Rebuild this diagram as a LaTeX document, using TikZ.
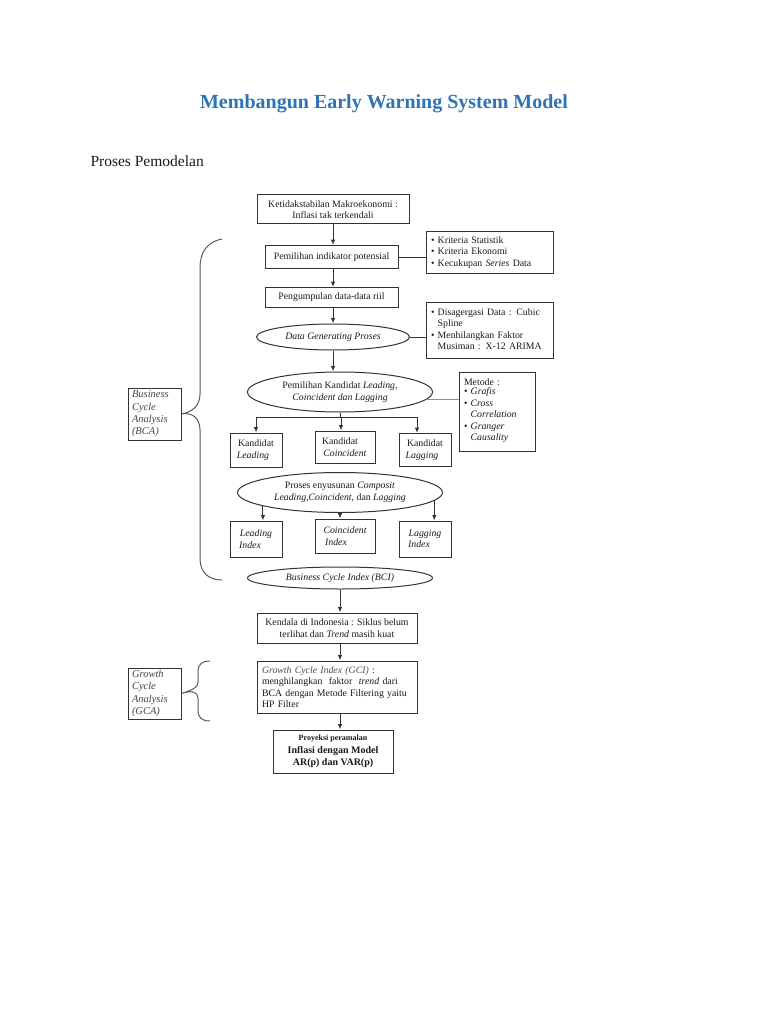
\documentclass[tikz,border=0pt]{standalone}
\usepackage{fontspec}
\setmainfont{Liberation Serif}
\usetikzlibrary{shapes.geometric,arrows.meta}
\definecolor{titleblue}{HTML}{2E74B5}
\definecolor{lncol}{HTML}{333333}
\definecolor{sidetxt}{HTML}{444444}
\begin{document}
\begin{tikzpicture}[x=1pt,y=-1pt,
  every node/.style={font=\fontsize{9.8}{11.5}\selectfont, text=black!90},
  box/.style={draw=lncol, line width=1pt, rectangle, inner sep=0pt, align=center},
  lbox/.style={draw=lncol, line width=1pt, rectangle, inner ysep=0pt, inner xsep=5pt, align=left},
  oval/.style={draw=lncol, line width=1pt, ellipse, inner sep=0pt, align=center},
  side/.style={draw=lncol, line width=1pt, rectangle, inner ysep=0pt, inner xsep=4pt, align=left,
    text width=45pt, minimum height=52pt, font=\fontsize{10.5}{12.3}\selectfont\itshape, text=sidetxt},
  arr/.style={draw=lncol, line width=1pt, -{Latex[length=5.5pt,width=4.5pt]}},
  ln/.style={draw=lncol, line width=1pt},
  gln/.style={draw=black!45, line width=1pt},
  brace/.style={draw=black!65, line width=1pt}]
\useasboundingbox (0,0) rectangle (768,1024);

% title and heading
\node[font=\fontsize{20}{24}\selectfont\bfseries, text=titleblue] (title) at (384,104) {Membangun Early Warning System Model};
\node[anchor=west, font=\fontsize{15.5}{18}\selectfont] (head) at (87,161) {Proses Pemodelan};

% main column
\node[box, minimum width=152pt, minimum height=29pt] (b1) at (333,209.5) {Ketidakstabilan Makroekonomi :\\Inflasi tak terkendali};
\node[box, minimum width=133pt, minimum height=23pt] (b2) at (331.5,257) {Pemilihan indikator potensial};
\node[box, minimum width=133pt, minimum height=20pt] (b3) at (331.5,297.5) {Pengumpulan data-data riil};
\node[oval, minimum width=153pt, minimum height=26pt] (e1) at (333,337) {\itshape Data Generating Proses};
\node[oval, minimum width=185pt, minimum height=40pt] (e2) at (340,392) {Pemilihan Kandidat \textit{Leading,}\\\textit{Coincident dan Lagging}};

% right boxes
\node[lbox, text width=117pt, minimum height=41pt] (r1) at (489.5,252.5)
  {\begin{tabular}{@{}l@{\ }l@{}}\textbullet & Kriteria Statistik\\ \textbullet & Kriteria Ekonomi\\ \textbullet & Kecukupan \textit{Series} Data\end{tabular}};
\node[lbox, text width=117pt, minimum height=56pt] (r2) at (489.5,330)
  {\begin{tabular}{@{}l@{\ }l@{}}\textbullet & Disagergasi Data : Cubic\\ & Spline\\ \textbullet & Menhilangkan Faktor\\ & Musiman : X-12 ARIMA\end{tabular}};
\node[lbox, text width=66pt, minimum height=79pt] (r3) at (497,411.5)
  {Metode :\\[-0.5pt]\begin{tabular}{@{}l@{\ }l@{}}\textbullet & \textit{Grafis}\\ \textbullet & \textit{Cross}\\ & \textit{Correlation}\\ \textbullet & \textit{Granger}\\ & \textit{Causality}\end{tabular}};

% kandidat boxes
\node[box, minimum width=52pt, minimum height=34pt] (kL) at (256,450) {Kandidat\\\textit{Leading}\hspace*{6pt}};
\node[box, minimum width=60pt, minimum height=32pt] (kC) at (345,447) {Kandidat\hspace*{10pt}\\\textit{Coincident}};
\node[box, minimum width=52pt, minimum height=33pt] (kG) at (425,450) {Kandidat\\\textit{Lagging}\hspace*{6pt}};

\node[oval, minimum width=205pt, minimum height=40pt] (e3) at (340,492.5) {Proses enyusunan \textit{Composit}\\\textit{Leading,Coincident}, dan \textit{Lagging}};

% index boxes
\node[box, minimum width=52pt, minimum height=36pt, font=\fontsize{9.8}{11.5}\selectfont\itshape] (iL) at (256,539) {Leading\\Index\hspace*{12pt}};
\node[box, minimum width=60pt, minimum height=34pt, font=\fontsize{9.8}{11.5}\selectfont\itshape] (iC) at (345,536) {Coincident\\Index\hspace*{18pt}};
\node[box, minimum width=52pt, minimum height=36pt, font=\fontsize{9.8}{11.5}\selectfont\itshape] (iG) at (425,539) {Lagging\\Index\hspace*{12pt}};

\node[oval, minimum width=185pt, minimum height=22pt] (e4) at (340,578) {\itshape Business Cycle Index (BCI)};

\node[box, minimum width=160pt, minimum height=30pt] (k) at (337,628) {Kendala di Indonesia : Siklus belum\\terlihat dan \textit{Trend} masih kuat};
\node[lbox, text width=150pt, minimum height=52pt] (g) at (337,687)
  {\textit{\textcolor{black!70}{Growth Cycle Index (GCI)}} :\\menghilangkan\ \ faktor\ \ \textit{trend} dari\\BCA dengan Metode Filtering yaitu\\HP Filter};
\node[box, minimum width=120pt, minimum height=43pt, font=\fontsize{10}{12.5}\selectfont\bfseries] (f) at (333,751.5)
  {{\fontsize{8}{10}\selectfont Proyeksi peramalan}\\Inflasi dengan Model\\AR(p) dan VAR(p)};

% side boxes
\node[side] (bca) at (154.5,414) {Business\\Cycle\\Analysis\\(BCA)};
\node[side, minimum height=51pt] (gca) at (154.5,693.5) {Growth\\Cycle\\Analysis\\(GCA)};

% vertical arrows
\draw[arr] (b1.south) -- (b1.south |- b2.north);
\draw[arr] (b1.south |- b2.south) -- (b1.south |- b3.north);
\draw[arr] (b1.south |- b3.south) -- (b1.south |- e1.north);
\draw[arr] (e1.south) -- (e1.south |- e2.north);

% side connectors
\draw[ln] (b2.east) -- (b2.east -| r1.west);
\draw[ln] (e1.east) -- (e1.east -| r2.west);
\draw[gln] (e2.-5) -- (e2.-5 -| r3.west);

% branching to kandidat
\coordinate (jC) at (341,417);
\coordinate (jL) at (256,417);
\coordinate (jR) at (417,417);
\draw[ln] (e2.south) -- (e2.south |- jC);
\draw[ln] (jL) -- (jR);
\draw[arr] (jL) -- (jL |- kL.north);
\draw[arr] (jC) -- (jC |- kC.north);
\draw[arr] (jR) -- (jR |- kG.north);

% composit to index
\draw[arr] (e3.190) -- (e3.190 |- iL.north);
\draw[arr] (e3.south) -- (e3.south |- iC.north);
\draw[arr] (e3.355) -- (e3.355 |- iG.north);

% lower column
\draw[arr] (e4.south) -- (e4.south |- k.north);
\draw[arr] (e4.south |- k.south) -- (e4.south |- g.north);
\draw[arr] (e4.south |- g.south) -- (e4.south |- f.north);

% BCA brace
\draw[brace] (222,239) .. controls (207,242) and (200,252) .. (200,268) -- (200,394)
  .. controls (200,406) and (192,412) .. (bca.east)
  .. controls (192,412) and (200,418) .. (200,430) -- (200,558)
  .. controls (200,572) and (208,580) .. (222,580);

% GCA brace
\draw[brace] (210,661) .. controls (202,661) and (198,664) .. (198,672) -- (198,682)
  .. controls (198,688) and (192,690) .. (gca.east)
  .. controls (192,690) and (198,692) .. (198,698) -- (198,710)
  .. controls (198,718) and (202,721) .. (210,721);
\end{tikzpicture}
\end{document}
